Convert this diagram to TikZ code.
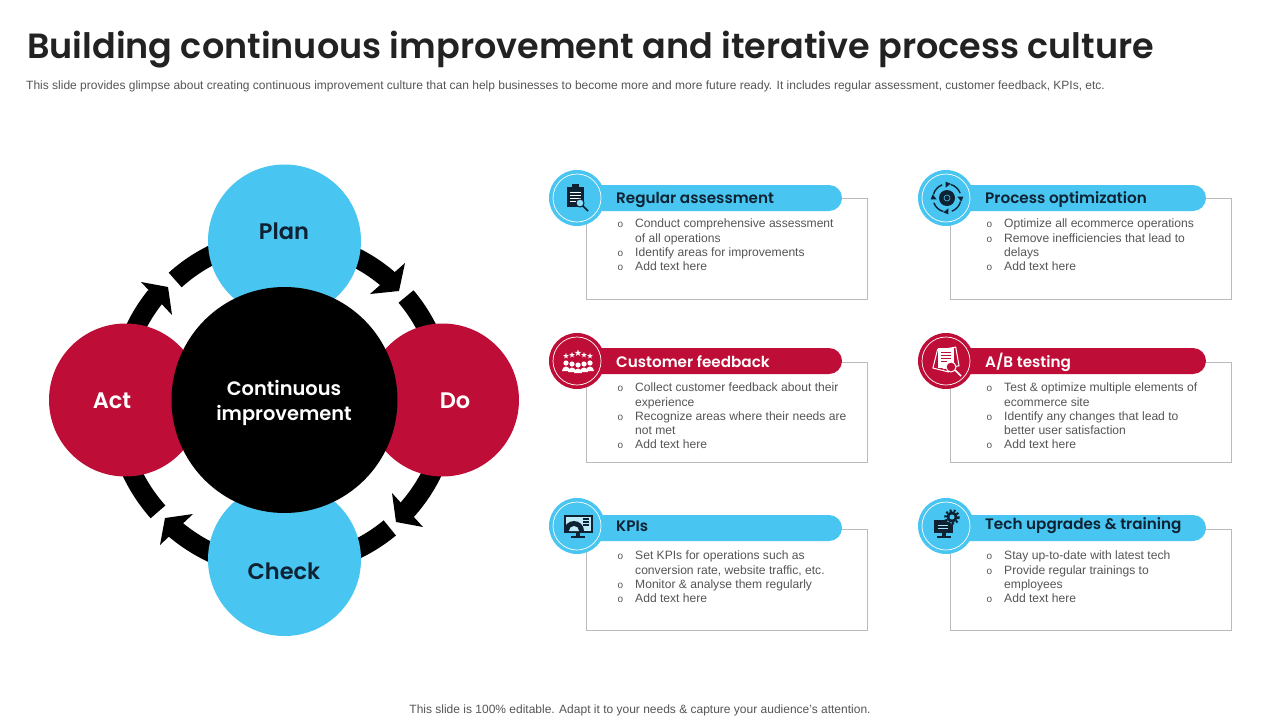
\documentclass[tikz,border=0pt]{standalone}
\usepackage{fontspec}
\setmainfont{Liberation Sans}
\newfontfamily\headfont{Poppins}[BoldFont={Poppins SemiBold}]
\usetikzlibrary{positioning}
\definecolor{SLIDEblue}{HTML}{48C5F0}
\definecolor{SLIDEred}{HTML}{BE0E37}
\definecolor{SLIDEdark}{HTML}{0E2233}
\definecolor{SLIDEtitle}{HTML}{222222}
\definecolor{SLIDEgrey}{HTML}{555555}
\definecolor{SLIDEline}{HTML}{BBBBBB}
\tikzset{
  stage/.style={circle,minimum size=153pt,inner sep=0pt},
  stagelabel/.style={inner sep=0pt,font=\headfont\bfseries\fontsize{22.5}{26}\selectfont},
  ringarc/.style={line width=19.5pt,black},
  cardbox/.style={draw=SLIDEline,line width=0.8pt,fill=white},
  cardhead/.style={anchor=west,inner sep=0pt,font=\headfont\bfseries\fontsize{15.2}{18}\selectfont},
  cardtext/.style={anchor=north west,inner sep=0pt,align=left,text=SLIDEgrey,font=\fontsize{12.1}{14.2}\selectfont},
}
% bullet and hanging line of a card
\newcommand{\bul}{\makebox[18pt][l]{\hspace{0.5pt}\fontsize{10}{10}\selectfont o}}
\newcommand{\hang}{\hspace*{18pt}}
% x, y, size
\newcommand{\tinystar}[3]{\fill[shift={(#1,#2)}] (-90:#3) -- (-54:0.4*#3) -- (-18:#3) -- (18:0.4*#3) -- (54:#3) -- (90:0.4*#3) -- (126:#3) -- (162:0.4*#3) -- (198:#3) -- (234:0.4*#3) -- cycle;}
% x of circle, y of circle, x of box, y of bar, colour, y of box, height of box, nodes, icon
\newcommand{\card}[9]{
  \draw[cardbox] (#3,#6) rectangle +(281,#7);
  \fill[#5] (#1,#4-13) -- (#3+243,#4-13) arc (-90:90:13) -- (#1,#4+13) -- cycle;
  \fill[#5] (#1,#2) circle (28);
  \draw[white,line width=0.7pt] (#1,#2) circle (24);
  #8
  \begin{scope}[shift={(#1,#2)}]
  #9
  \end{scope}
}
\begin{document}
\begin{tikzpicture}[x=1pt,y=-1pt]
\useasboundingbox (0,0) rectangle (1280,720);
\fill[white] (0,0) rectangle (1280,720);

% Title
\node[anchor=west,inner sep=0pt,text=SLIDEtitle,font=\headfont\bfseries\fontsize{35}{40}\selectfont] (title) at (27,50) {Building continuous improvement and iterative process culture};
\node[anchor=west,inner sep=0pt,text=SLIDEgrey,font=\fontsize{12}{14}\selectfont] (subtitle) at (26,86) {This slide provides glimpse about creating continuous improvement culture that can help businesses to become more and more future ready. It includes regular assessment, customer feedback, KPIs, etc.};
\node[inner sep=0pt,text=SLIDEgrey,font=\fontsize{12}{14}\selectfont] (footer) at (640,710) {This slide is 100\% editable. Adapt it to your needs \& capture your audience's attention.};

% Cycle
\coordinate (ringc) at (284,400);
\draw[ringarc] ([shift={(-70:159.5)}]ringc) arc (-70:-48.5:159.5);
\draw[ringarc] ([shift={(-40.3:160)}]ringc) arc (-40.3:-20:160);
\fill (405,263) -- (370,294) -- (399,291) -- cycle;
\draw[ringarc] ([shift={(20:165)}]ringc) arc (20:42.5:165);
\draw[ringarc] ([shift={(50.4:166)}]ringc) arc (50.4:70:166);
\fill (392,493) -- (423,527) -- (396,522) -- cycle;
\draw[ringarc] ([shift={(110:169)}]ringc) arc (110:130.5:169);
\draw[ringarc] ([shift={(138.4:168.5)}]ringc) arc (138.4:160:168.5);
\fill (193,514) -- (160,545) -- (165,518) -- cycle;
\draw[ringarc] ([shift={(200:165)}]ringc) arc (200:219:165);
\draw[ringarc] ([shift={(227.8:162)}]ringc) arc (227.8:250:162);
\fill (141,282) -- (172,315) -- (168,287) -- cycle;

% Stages
\node[stage,fill=SLIDEblue] (plan) at (284.5,241) {};
\node[stage,fill=SLIDEblue] (check) at (284.5,559.5) {};
\node[stage,fill=SLIDEred] (act) at (125.5,400) {};
\node[stage,fill=SLIDEred] (do) at (442.5,400) {};
\node[circle,minimum size=226pt,inner sep=0pt,fill=black] (centre) at (284.5,400) {};
\node[inner sep=0pt,text=white,align=center,font=\headfont\bfseries\fontsize{19.4}{25}\selectfont] (centrelabel) at (284,403) {Continuous\\improvement};
\node[stagelabel,text=SLIDEdark] (planlabel) at (284,231) {Plan};
\node[stagelabel,text=SLIDEdark] (checklabel) at (284,571) {Check};
\node[stagelabel,text=white] (actlabel) at (112,401) {Act};
\node[stagelabel,text=white] (dolabel) at (455,401) {Do};

% Cards
\card{577}{198}{586}{198}{SLIDEblue}{198}{101}{
  \node[cardhead,text=SLIDEdark] (assesshead) at (616,200) {Regular assessment};
  \node[cardtext] (assesstext) at (617,219) {\bul Conduct comprehensive assessment\\\hang of all operations\\\bul Identify areas for improvements\\\bul Add text here};
}{
  \fill[SLIDEdark] (-10,-11) rectangle (7,9);
  \fill[SLIDEdark] (-5,-14) rectangle (2,-9);
  \draw[white,line width=0.8pt] (-7,-6) -- (4,-6) (-7,-3) -- (4,-3) (-7,0) -- (4,0) (-7,3) -- (0,3);
  \draw[SLIDEdark,line width=1.5pt] (6,8) -- (11,13);
  \draw[SLIDEdark,line width=1pt,fill=SLIDEblue!60] (3,5) circle (4);
}
\card{946}{198}{950}{198}{SLIDEblue}{198}{101}{
  \node[cardhead,text=SLIDEdark] (processhead) at (985,200) {Process optimization};
  \node[cardtext] (processtext) at (986,219) {\bul Optimize all ecommerce operations\\\bul Remove inefficiencies that lead to\\\hang delays\\\bul Add text here};
}{
  \fill[SLIDEdark] (1,0) circle (8);
  \draw[SLIDEblue,line width=0.6pt] (1,0) circle (3);
  \foreach \a in {0,90,180,270} {
    \draw[SLIDEdark,line width=1.4pt] ([shift={(\a+15:14)}]1,0) arc (\a+15:\a+70:14);
    \fill[SLIDEdark,shift={(1,0)},rotate=\a] (72:14) ++(-3,-3) -- ++(0,6) -- ++(-5,-2) -- cycle;
  }
}
\card{577}{361}{586}{361}{SLIDEred}{362}{100}{
  \node[cardhead,text=white] (feedbackhead) at (616,362) {Customer feedback};
  \node[cardtext] (feedbacktext) at (617,383) {\bul Collect customer feedback about their\\\hang experience\\\bul Recognize areas where their needs are\\\hang not met\\\bul Add text here};
}{
  \begin{scope}[white]
  \tinystar{-11}{-5}{3}
  \tinystar{-5}{-6}{3}
  \tinystar{1}{-8}{3.5}
  \tinystar{7}{-6}{3}
  \tinystar{13}{-5}{3}
  \foreach \x/\y in {-11/2,-5/3,1/4,7/3,13/2} {
    \fill (\x,\y) circle (2.6);
    \fill (\x-4,\y+8) arc (180:360:4 and 4.5) -- cycle;
  }
  \end{scope}
}
\card{946}{361}{950}{361}{SLIDEred}{362}{100}{
  \node[cardhead,text=white] (abtesthead) at (985,362) {A/B testing};
  \node[cardtext] (abtesttext) at (986,383) {\bul Test \& optimize multiple elements of\\\hang ecommerce site\\\bul Identify any changes that lead to\\\hang better user satisfaction\\\bul Add text here};
}{
  \begin{scope}[rotate=-14]
  \draw[white,fill=SLIDEred,line width=1pt] (-11,-9) rectangle (5,10);
  \end{scope}
  \begin{scope}[rotate=10]
  \draw[white,fill=SLIDEred,line width=1pt] (-4,-12) rectangle (12,7);
  \end{scope}
  \fill[white] (-8,-13) rectangle (8,7);
  \draw[SLIDEred,line width=0.8pt] (-5,-9) -- (5,-9) (-5,-6) -- (5,-6) (-5,-3) -- (5,-3) (-5,0) -- (1,0);
  \draw[white,line width=1.6pt] (9,9) -- (15,15);
  \draw[white,line width=1pt,fill=SLIDEred] (5,6) circle (5);
}
\card{577}{526}{586}{528}{SLIDEblue}{529}{101}{
  \node[cardhead,text=SLIDEdark] (kpishead) at (616,526) {KPIs};
  \node[cardtext] (kpistext) at (617,551) {\bul Set KPIs for operations such as\\\hang conversion rate, website traffic, etc.\\\bul Monitor \& analyse them regularly\\\bul Add text here};
}{
  \fill[SLIDEdark] (-13,-11) rectangle (16,7);
  \fill[SLIDEblue!35] (-11,-9) rectangle (14,5);
  \fill[SLIDEdark] (-13,5) arc (180:360:10) -- cycle;
  \fill[SLIDEblue!35] (-8,5) arc (180:360:5) -- cycle;
  \draw[SLIDEdark,line width=1.2pt] (6,-7) -- (12,-7) (6,-4) -- (12,-4) (6,-1) -- (12,-1);
  \fill[SLIDEdark] (-1,7) rectangle (3,10);
  \fill[SLIDEdark] (-6,10) rectangle (8,12);
}
\card{946}{526}{950}{528}{SLIDEblue}{529}{101}{
  \node[cardhead,text=SLIDEdark] (techhead) at (985,526) {Tech upgrades \& training};
  \node[cardtext] (techtext) at (986,551) {\bul Stay up-to-date with latest tech\\\bul Provide regular trainings to\\\hang employees\\\bul Add text here};
}{
  \fill[SLIDEdark] (-12,-6) rectangle (7,7);
  \draw[SLIDEblue!50,line width=0.8pt] (-8,-1) -- (2,-1) (-8,2) -- (2,2);
  \fill[SLIDEdark] (-4,7) rectangle (0,10);
  \fill[SLIDEdark] (-9,10) rectangle (5,12);
  \draw[SLIDEblue,fill=SLIDEdark,line width=1pt] (6,-9) circle (6);
  \draw[SLIDEdark,line width=2.5pt,dash pattern=on 2pt off 2pt] (6,-9) circle (6.5);
  \fill[SLIDEblue] (6,-9) circle (2.5);
}

\end{tikzpicture}
\end{document}
